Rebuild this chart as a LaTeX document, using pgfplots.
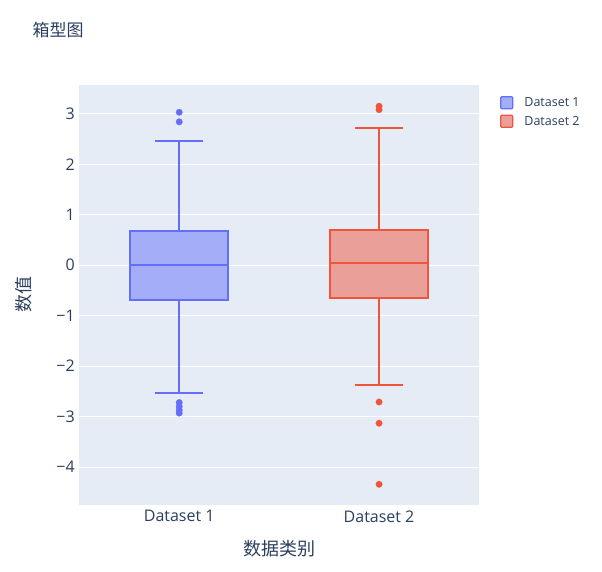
\documentclass[border=0pt]{standalone}
\usepackage{pgfplots}
\pgfplotsset{compat=1.18}
\usepgfplotslibrary{statistics}
\usepackage{fontspec}
\setmainfont{Open Sans}
\newfontfamily\cjk{Noto Sans CJK SC}
\definecolor{bg}{HTML}{E5ECF6}
\definecolor{tc}{HTML}{2A3F5F}
\definecolor{c1}{HTML}{636EFA}
\definecolor{f1}{HTML}{A4ADF8}
\definecolor{c2}{HTML}{EF553B}
\definecolor{f2}{HTML}{EAA099}
\begin{document}
\begin{tikzpicture}
\useasboundingbox (-79.3pt,-67pt) rectangle (522.7pt,505pt);
\begin{axis}[
  at={(0pt,0pt)}, anchor=south west,
  scale only axis, width=399.7pt, height=420pt,
  axis background/.style={fill=bg},
  axis line style={draw=none},
  xmin=-0.5, xmax=1.5, ymin=-4.75, ymax=3.57,
  xtick={0,1}, xticklabels={Dataset 1,Dataset 2},
  ytick={-4,-3,-2,-1,0,1,2,3}, yticklabels={−4,−3,−2,−1,0,1,2,3},
  major tick length=0pt,
  ymajorgrids, grid style={white, line width=1pt},
  tick label style={font=\fontsize{16}{19}\selectfont, text=tc},
  yticklabel style={xshift=-1pt},
  xticklabel style={yshift=-2pt},
  boxplot/draw direction=y,
  legend style={at={(1.045,0.98)}, anchor=north west, draw=none, fill=none,
    font=\fontsize{12.5}{15}\selectfont, text=tc, row sep=4pt,
    nodes={inner xsep=11pt}},
  legend cell align=left,
  legend image code/.code={\draw[#1, line width=1.2pt, rounded corners=1pt] (0pt,-6pt) rectangle (12pt,6pt);},
]
\addlegendimage{draw=c1, fill=f1}
\addlegendentry{Dataset 1}
\addlegendimage{draw=c2, fill=f2}
\addlegendentry{Dataset 2}
\addplot+[forget plot, solid, draw=c1, fill=f1, line width=2pt,
  mark=*, mark size=3.3pt, mark options={fill=c1, draw=c1, line width=0.1pt},
  boxplot/every box/.style={draw=c1, fill=f1, line width=2pt},
  boxplot/every whisker/.style={draw=c1, line width=2pt},
  boxplot/every median/.style={draw=c1, line width=2pt},
  boxplot prepared={draw position=0, lower whisker=-2.54, lower quartile=-0.68,
    median=0.01, upper quartile=0.67, upper whisker=2.47,
    box extend=0.49, whisker extend=0.24}]
  table[row sep=\\, y index=0, header=false] {3.03\\2.84\\-2.72\\-2.80\\-2.87\\-2.93\\};
\addplot+[forget plot, solid, draw=c2, fill=f2, line width=2pt,
  mark=*, mark size=3.3pt, mark options={fill=c2, draw=c2, line width=0.1pt},
  boxplot/every box/.style={draw=c2, fill=f2, line width=2pt},
  boxplot/every whisker/.style={draw=c2, line width=2pt},
  boxplot/every median/.style={draw=c2, line width=2pt},
  boxplot prepared={draw position=1, lower whisker=-2.37, lower quartile=-0.65,
    median=0.04, upper quartile=0.70, upper whisker=2.72,
    box extend=0.49, whisker extend=0.24}]
  table[row sep=\\, y index=0, header=false] {3.15\\3.08\\-2.71\\-3.13\\-4.34\\};
\end{axis}
\node[anchor=west, text=tc, font=\cjk\fontsize{17}{20}\selectfont] at (-50.3pt,475pt) {箱型图};
\node[rotate=90, text=tc, font=\cjk\fontsize{18}{21}\selectfont] at (-55.3pt,210pt) {数值};
\node[text=tc, font=\cjk\fontsize{18}{21}\selectfont] at (199.7pt,-44pt) {数据类别};
\end{tikzpicture}
\end{document}
